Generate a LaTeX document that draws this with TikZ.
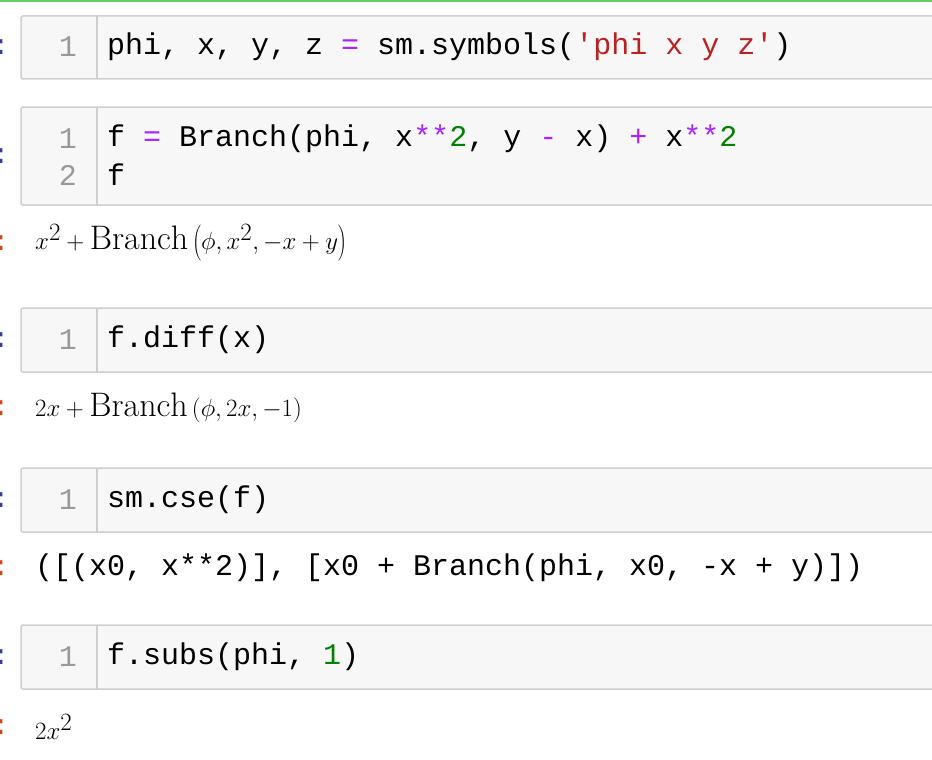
\documentclass[tikz,border=0pt]{standalone}
\usepackage{fontspec}
\setmonofont{Liberation Mono}
\usepackage{xcolor}
\definecolor{kw}{HTML}{AA22FF}
\definecolor{st}{HTML}{BA2121}
\definecolor{nm}{HTML}{008000}
\definecolor{ln}{HTML}{999999}
\definecolor{bg}{HTML}{F7F7F7}
\definecolor{bd}{HTML}{CFCFCF}
\definecolor{inp}{HTML}{303F9F}
\definecolor{outp}{HTML}{D84315}
\begin{document}
\begin{tikzpicture}[x=1pt,y=-1pt,
 cell/.style={draw=bd,fill=bg,line width=1.5pt,rounded corners=2pt},
 code/.style={anchor=west,font=\fontsize{30}{36}\ttfamily,inner sep=0},
 lnum/.style={anchor=east,font=\fontsize{30}{36}\ttfamily,text=ln,inner sep=0},
 mth/.style={anchor=west,font=\fontsize{34}{40}\selectfont,inner sep=0},
 pin/.style={anchor=west,font=\fontsize{28}{30}\bfseries\ttfamily,text=inp,inner sep=0},
 pout/.style={anchor=west,font=\fontsize{28}{30}\bfseries\ttfamily,text=outp,inner sep=0}]
\useasboundingbox (0,0) rectangle (932,760);
\fill[white] (0,0) rectangle (932,760);
\draw[green!50!gray!80,line width=2pt] (0,1) -- (932,1);
% cells
\foreach \a/\b [count=\i] in {16/79,107/205,308/372,468/532,625/689}{
  \draw[cell] (21,\a) rectangle (945,\b);
  \draw[bd,line width=1.5pt] (97,\a) -- (97,\b);
}
\foreach \yy [count=\i] in {47,156,340,500,657}{\node[pin] (pi\i) at (-8,\yy) {:};}
\foreach \yy [count=\i] in {243,408,568,727}{\node[pout] (po\i) at (-8,\yy) {:};}
\node[lnum] (l1) at (77,47) {1};
\node[code] (c1) at (107,47) {phi, x, y, z \textcolor{kw}{=} sm.symbols(\textcolor{st}{'phi x y z'})};
\node[lnum] (l2) at (77,139) {1};
\node[code] (c2) at (107,139) {f \textcolor{kw}{=} Branch(phi, x\textcolor{kw}{**}\textcolor{nm}{2}, y \textcolor{kw}{-} x) \textcolor{kw}{+} x\textcolor{kw}{**}\textcolor{nm}{2}};
\node[lnum] (l3) at (77,175) {2};
\node[code] (c3) at (107,175) {f};
\node[mth] (o1) at (35,243) {$x^{2} + \mathrm{Branch}\left(\phi, x^{2}, -x + y\right)$};
\node[lnum] (l4) at (77,340) {1};
\node[code] (c4) at (107,340) {f.diff(x)};
\node[mth] (o2) at (35,408) {$2x + \mathrm{Branch}\left(\phi, 2x, -1\right)$};
\node[lnum] (l5) at (77,500) {1};
\node[code] (c5) at (107,500) {sm.cse(f)};
\node[code] (o3) at (35,568) {([(x0, x**2)], [x0 + Branch(phi, x0, -x + y)])};
\node[lnum] (l6) at (77,657) {1};
\node[code] (c6) at (107,657) {f.subs(phi, \textcolor{nm}{1})};
\node[mth] (o4) at (35,727) {$2x^{2}$};
\end{tikzpicture}
\end{document}
